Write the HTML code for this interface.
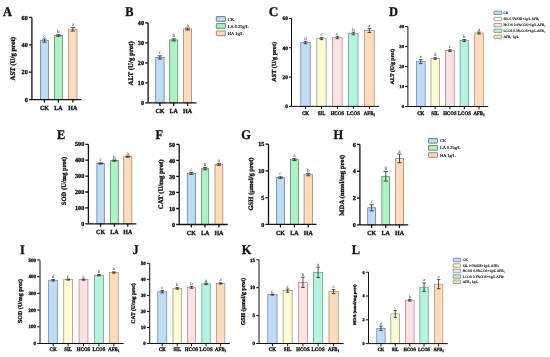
<!DOCTYPE html>
<html><head><meta charset="utf-8"><style>
html,body{margin:0;padding:0;background:#fff;width:550px;height:357px;overflow:hidden}
svg{display:block;will-change:transform;filter:blur(0.35px)}
text{font-family:"Liberation Serif",serif;text-rendering:geometricPrecision}
</style></head><body>
<svg width="550" height="357" viewBox="0 0 550 357">
<rect width="550" height="357" fill="#fff"/>
<text transform="translate(3.00,15.50) scale(0.93,1)" font-size="13.3" text-anchor="start" font-weight="bold" fill="#111" stroke="#111" stroke-width="0.32">A</text>
<rect x="40.40" y="40.60" width="8.00" height="59.00" fill="#bcdcf7" stroke="#6f7f8f" stroke-width="0.8"/>
<path d="M44.40 39.00V42.20M42.20 39.00H46.60M42.20 42.20H46.60" stroke="#1a1a1a" stroke-width="0.75" fill="none"/>
<text x="44.40" y="37.50" font-size="5.2" text-anchor="middle" font-weight="normal" fill="#222" >c</text>
<rect x="54.40" y="35.50" width="8.00" height="64.10" fill="#aaf4c4" stroke="#648a6e" stroke-width="0.8"/>
<path d="M58.40 34.70V36.30M56.20 34.70H60.60M56.20 36.30H60.60" stroke="#1a1a1a" stroke-width="0.75" fill="none"/>
<text x="58.40" y="33.20" font-size="5.2" text-anchor="middle" font-weight="normal" fill="#222" >b</text>
<rect x="68.70" y="29.30" width="8.30" height="70.30" fill="#fddbbb" stroke="#a08a74" stroke-width="0.8"/>
<path d="M72.85 27.50V31.10M70.65 27.50H75.05M70.65 31.10H75.05" stroke="#1a1a1a" stroke-width="0.75" fill="none"/>
<text x="72.85" y="26.00" font-size="5.2" text-anchor="middle" font-weight="normal" fill="#222" >a</text>
<path d="M31.90 17.40V99.60H81.50M28.90 99.60H31.90M28.90 72.20H31.90M28.90 44.80H31.90M28.90 17.40H31.90M44.40 99.60V102.60M58.40 99.60V102.60M72.85 99.60V102.60" stroke="#111" stroke-width="1.3" fill="none"/>
<text x="27.80" y="101.71" font-size="6.2" text-anchor="end" font-weight="bold" fill="#111" stroke="#111" stroke-width="0.32" >0</text>
<text x="27.80" y="74.31" font-size="6.2" text-anchor="end" font-weight="bold" fill="#111" stroke="#111" stroke-width="0.32" >20</text>
<text x="27.80" y="46.91" font-size="6.2" text-anchor="end" font-weight="bold" fill="#111" stroke="#111" stroke-width="0.32" >40</text>
<text x="27.80" y="19.51" font-size="6.2" text-anchor="end" font-weight="bold" fill="#111" stroke="#111" stroke-width="0.32" >60</text>
<text transform="translate(44.40,110.20) scale(0.95,1)" font-size="6.3" text-anchor="middle" font-weight="bold" fill="#111" stroke="#111" stroke-width="0.32">CK</text>
<text transform="translate(58.40,110.20) scale(0.95,1)" font-size="6.3" text-anchor="middle" font-weight="bold" fill="#111" stroke="#111" stroke-width="0.32">LA</text>
<text transform="translate(72.85,110.20) scale(0.95,1)" font-size="6.3" text-anchor="middle" font-weight="bold" fill="#111" stroke="#111" stroke-width="0.32">HA</text>
<text x="0.00" y="0.00" font-size="6.8" text-anchor="middle" font-weight="bold" fill="#111" stroke="#111" stroke-width="0.32" transform="translate(15.40,58.70) rotate(-90)">AST (U/g prot)</text>
<text transform="translate(125.20,15.70) scale(0.93,1)" font-size="13.3" text-anchor="start" font-weight="bold" fill="#111" stroke="#111" stroke-width="0.32">B</text>
<rect x="155.70" y="57.40" width="8.40" height="45.50" fill="#bcdcf7" stroke="#6f7f8f" stroke-width="0.8"/>
<path d="M159.90 55.80V59.00M157.70 55.80H162.10M157.70 59.00H162.10" stroke="#1a1a1a" stroke-width="0.75" fill="none"/>
<text x="159.90" y="54.30" font-size="5.2" text-anchor="middle" font-weight="normal" fill="#222" >c</text>
<rect x="169.70" y="39.90" width="8.00" height="63.00" fill="#aaf4c4" stroke="#648a6e" stroke-width="0.8"/>
<path d="M173.70 38.90V40.90M171.50 38.90H175.90M171.50 40.90H175.90" stroke="#1a1a1a" stroke-width="0.75" fill="none"/>
<text x="173.70" y="37.40" font-size="5.2" text-anchor="middle" font-weight="normal" fill="#222" >b</text>
<rect x="183.60" y="29.00" width="8.00" height="73.90" fill="#fddbbb" stroke="#a08a74" stroke-width="0.8"/>
<path d="M187.60 28.00V30.00M185.40 28.00H189.80M185.40 30.00H189.80" stroke="#1a1a1a" stroke-width="0.75" fill="none"/>
<text x="187.60" y="26.50" font-size="5.2" text-anchor="middle" font-weight="normal" fill="#222" >a</text>
<path d="M148.10 22.90V102.90H196.50M145.10 102.90H148.10M145.10 82.90H148.10M145.10 62.90H148.10M145.10 42.90H148.10M145.10 22.90H148.10M159.90 102.90V105.90M173.70 102.90V105.90M187.60 102.90V105.90" stroke="#111" stroke-width="1.3" fill="none"/>
<text x="144.00" y="105.01" font-size="6.2" text-anchor="end" font-weight="bold" fill="#111" stroke="#111" stroke-width="0.32" >0</text>
<text x="144.00" y="85.01" font-size="6.2" text-anchor="end" font-weight="bold" fill="#111" stroke="#111" stroke-width="0.32" >10</text>
<text x="144.00" y="65.01" font-size="6.2" text-anchor="end" font-weight="bold" fill="#111" stroke="#111" stroke-width="0.32" >20</text>
<text x="144.00" y="45.01" font-size="6.2" text-anchor="end" font-weight="bold" fill="#111" stroke="#111" stroke-width="0.32" >30</text>
<text x="144.00" y="25.01" font-size="6.2" text-anchor="end" font-weight="bold" fill="#111" stroke="#111" stroke-width="0.32" >40</text>
<text transform="translate(159.90,112.60) scale(0.95,1)" font-size="6.3" text-anchor="middle" font-weight="bold" fill="#111" stroke="#111" stroke-width="0.32">CK</text>
<text transform="translate(173.70,112.60) scale(0.95,1)" font-size="6.3" text-anchor="middle" font-weight="bold" fill="#111" stroke="#111" stroke-width="0.32">LA</text>
<text transform="translate(187.60,112.60) scale(0.95,1)" font-size="6.3" text-anchor="middle" font-weight="bold" fill="#111" stroke="#111" stroke-width="0.32">HA</text>
<text x="0.00" y="0.00" font-size="6.9" text-anchor="middle" font-weight="bold" fill="#111" stroke="#111" stroke-width="0.32" transform="translate(132.70,63.30) rotate(-90)">ALT (U/g prot)</text>
<rect x="216.30" y="16.60" width="9.10" height="4.70" fill="#bcdcf7" stroke="#6f7f8f" stroke-width="1.0" rx="0.4"/>
<text x="227.80" y="20.53" font-size="4.5" text-anchor="start" font-weight="normal" fill="#000" stroke="#000" stroke-width="0.12">CK</text>
<rect x="216.30" y="23.60" width="9.10" height="4.70" fill="#aaf4c4" stroke="#648a6e" stroke-width="1.0" rx="0.4"/>
<text x="227.80" y="27.53" font-size="4.5" text-anchor="start" font-weight="normal" fill="#000" stroke="#000" stroke-width="0.12">LA 0.25g/L</text>
<rect x="216.30" y="31.00" width="9.10" height="4.70" fill="#fddbbb" stroke="#a08a74" stroke-width="1.0" rx="0.4"/>
<text x="227.80" y="34.93" font-size="4.5" text-anchor="start" font-weight="normal" fill="#000" stroke="#000" stroke-width="0.12">HA 1g/L</text>
<text x="268.80" y="16.30" font-size="13.3" text-anchor="start" font-weight="bold" fill="#111" stroke="#111" stroke-width="0.32" >C</text>
<rect x="300.75" y="42.50" width="9.50" height="63.90" fill="#bcdcf7" stroke="#6f7f8f" stroke-width="0.7"/>
<path d="M305.50 41.30V43.70M303.70 41.30H307.30M303.70 43.70H307.30" stroke="#1a1a1a" stroke-width="0.75" fill="none"/>
<text x="305.50" y="39.80" font-size="4.8" text-anchor="middle" font-weight="normal" fill="#222" >d</text>
<rect x="316.85" y="38.60" width="9.30" height="67.80" fill="#fcfbd4" stroke="#8e8e74" stroke-width="0.7"/>
<path d="M321.50 37.60V39.60M319.70 37.60H323.30M319.70 39.60H323.30" stroke="#1a1a1a" stroke-width="0.75" fill="none"/>
<text x="321.50" y="36.10" font-size="4.8" text-anchor="middle" font-weight="normal" fill="#222" >c</text>
<rect x="332.65" y="37.50" width="9.50" height="68.90" fill="#fde0e1" stroke="#9a8686" stroke-width="0.7"/>
<path d="M337.40 36.30V38.70M335.60 36.30H339.20M335.60 38.70H339.20" stroke="#1a1a1a" stroke-width="0.75" fill="none"/>
<text x="337.40" y="34.80" font-size="4.8" text-anchor="middle" font-weight="normal" fill="#222" >c</text>
<rect x="348.65" y="33.50" width="9.40" height="72.90" fill="#b3f4e1" stroke="#658f84" stroke-width="0.7"/>
<path d="M353.35 32.20V34.80M351.55 32.20H355.15M351.55 34.80H355.15" stroke="#1a1a1a" stroke-width="0.75" fill="none"/>
<text x="353.35" y="30.70" font-size="4.8" text-anchor="middle" font-weight="normal" fill="#222" >b</text>
<rect x="364.55" y="30.50" width="9.70" height="75.90" fill="#fddbbb" stroke="#a08a74" stroke-width="0.7"/>
<path d="M369.40 28.50V32.50M367.60 28.50H371.20M367.60 32.50H371.20" stroke="#1a1a1a" stroke-width="0.75" fill="none"/>
<text x="369.40" y="27.00" font-size="4.8" text-anchor="middle" font-weight="normal" fill="#222" >a</text>
<path d="M291.50 18.40V106.40H379.20M289.00 106.40H291.50M289.00 77.07H291.50M289.00 47.73H291.50M289.00 18.40H291.50M305.50 106.40V108.90M321.50 106.40V108.90M337.40 106.40V108.90M353.35 106.40V108.90M369.40 106.40V108.90" stroke="#111" stroke-width="1.0" fill="none"/>
<text x="287.90" y="108.24" font-size="5.4" text-anchor="end" font-weight="bold" fill="#111" stroke="#111" stroke-width="0.32" >0</text>
<text x="287.90" y="78.90" font-size="5.4" text-anchor="end" font-weight="bold" fill="#111" stroke="#111" stroke-width="0.32" >20</text>
<text x="287.90" y="49.57" font-size="5.4" text-anchor="end" font-weight="bold" fill="#111" stroke="#111" stroke-width="0.32" >40</text>
<text x="287.90" y="20.24" font-size="5.4" text-anchor="end" font-weight="bold" fill="#111" stroke="#111" stroke-width="0.32" >60</text>
<text transform="translate(305.50,114.60) scale(0.9,1)" font-size="5.3" text-anchor="middle" font-weight="bold" fill="#111" stroke="#111" stroke-width="0.32">CK</text>
<text transform="translate(321.50,114.60) scale(0.9,1)" font-size="5.3" text-anchor="middle" font-weight="bold" fill="#111" stroke="#111" stroke-width="0.32">SIL</text>
<text transform="translate(337.40,114.60) scale(0.9,1)" font-size="5.3" text-anchor="middle" font-weight="bold" fill="#111" stroke="#111" stroke-width="0.32">HCOS</text>
<text transform="translate(353.35,114.60) scale(0.9,1)" font-size="5.3" text-anchor="middle" font-weight="bold" fill="#111" stroke="#111" stroke-width="0.32">LCOS</text>
<text transform="translate(369.40,114.60) scale(0.9,1)" font-size="5.3" text-anchor="middle" font-weight="bold" fill="#111" stroke="#111" stroke-width="0.32">AFB<tspan font-size="70%" dy="1">1</tspan></text>
<text x="0.00" y="0.00" font-size="6.2" text-anchor="middle" font-weight="bold" fill="#111" stroke="#111" stroke-width="0.32" transform="translate(276.30,61.80) rotate(-90)">AST (U/g prot)</text>
<text transform="translate(388.90,15.90) scale(0.93,1)" font-size="13.3" text-anchor="start" font-weight="bold" fill="#111" stroke="#111" stroke-width="0.32">D</text>
<rect x="416.35" y="61.60" width="8.80" height="44.90" fill="#bcdcf7" stroke="#6f7f8f" stroke-width="0.7"/>
<path d="M420.75 59.60V63.60M418.95 59.60H422.55M418.95 63.60H422.55" stroke="#1a1a1a" stroke-width="0.75" fill="none"/>
<text x="420.75" y="58.10" font-size="4.8" text-anchor="middle" font-weight="normal" fill="#222" >e</text>
<rect x="430.95" y="58.50" width="8.40" height="48.00" fill="#fcfbd4" stroke="#8e8e74" stroke-width="0.7"/>
<path d="M435.15 57.70V59.30M433.35 57.70H436.95M433.35 59.30H436.95" stroke="#1a1a1a" stroke-width="0.75" fill="none"/>
<text x="435.15" y="56.20" font-size="4.8" text-anchor="middle" font-weight="normal" fill="#222" >d</text>
<rect x="445.55" y="50.60" width="8.70" height="55.90" fill="#fde0e1" stroke="#9a8686" stroke-width="0.7"/>
<path d="M449.90 49.80V51.40M448.10 49.80H451.70M448.10 51.40H451.70" stroke="#1a1a1a" stroke-width="0.75" fill="none"/>
<text x="449.90" y="48.30" font-size="4.8" text-anchor="middle" font-weight="normal" fill="#222" >c</text>
<rect x="460.05" y="40.50" width="8.50" height="66.00" fill="#b3f4e1" stroke="#658f84" stroke-width="0.7"/>
<path d="M464.30 39.50V41.50M462.50 39.50H466.10M462.50 41.50H466.10" stroke="#1a1a1a" stroke-width="0.75" fill="none"/>
<text x="464.30" y="38.00" font-size="4.8" text-anchor="middle" font-weight="normal" fill="#222" >b</text>
<rect x="474.65" y="33.00" width="8.70" height="73.50" fill="#fddbbb" stroke="#a08a74" stroke-width="0.7"/>
<path d="M479.00 32.00V34.00M477.20 32.00H480.80M477.20 34.00H480.80" stroke="#1a1a1a" stroke-width="0.75" fill="none"/>
<text x="479.00" y="30.50" font-size="4.8" text-anchor="middle" font-weight="normal" fill="#222" >a</text>
<path d="M407.90 26.60V106.50H488.30M405.10 106.50H407.90M405.10 86.53H407.90M405.10 66.55H407.90M405.10 46.57H407.90M405.10 26.60H407.90M420.75 106.50V109.30M435.15 106.50V109.30M449.90 106.50V109.30M464.30 106.50V109.30M479.00 106.50V109.30" stroke="#111" stroke-width="1.0" fill="none"/>
<text x="404.00" y="108.10" font-size="4.7" text-anchor="end" font-weight="bold" fill="#111" stroke="#111" stroke-width="0.32" >0</text>
<text x="404.00" y="88.12" font-size="4.7" text-anchor="end" font-weight="bold" fill="#111" stroke="#111" stroke-width="0.32" >10</text>
<text x="404.00" y="68.15" font-size="4.7" text-anchor="end" font-weight="bold" fill="#111" stroke="#111" stroke-width="0.32" >20</text>
<text x="404.00" y="48.17" font-size="4.7" text-anchor="end" font-weight="bold" fill="#111" stroke="#111" stroke-width="0.32" >30</text>
<text x="404.00" y="28.20" font-size="4.7" text-anchor="end" font-weight="bold" fill="#111" stroke="#111" stroke-width="0.32" >40</text>
<text transform="translate(420.75,114.60) scale(0.9,1)" font-size="5.3" text-anchor="middle" font-weight="bold" fill="#111" stroke="#111" stroke-width="0.32">CK</text>
<text transform="translate(435.15,114.60) scale(0.9,1)" font-size="5.3" text-anchor="middle" font-weight="bold" fill="#111" stroke="#111" stroke-width="0.32">SIL</text>
<text transform="translate(449.90,114.60) scale(0.9,1)" font-size="5.3" text-anchor="middle" font-weight="bold" fill="#111" stroke="#111" stroke-width="0.32">HCOS</text>
<text transform="translate(464.30,114.60) scale(0.9,1)" font-size="5.3" text-anchor="middle" font-weight="bold" fill="#111" stroke="#111" stroke-width="0.32">LCOS</text>
<text transform="translate(479.00,114.60) scale(0.9,1)" font-size="5.3" text-anchor="middle" font-weight="bold" fill="#111" stroke="#111" stroke-width="0.32">AFB<tspan font-size="70%" dy="1">1</tspan></text>
<text x="0.00" y="0.00" font-size="5.5" text-anchor="middle" font-weight="bold" fill="#111" stroke="#111" stroke-width="0.32" transform="translate(393.90,66.50) rotate(-90)">ALT (U/g prot)</text>
<rect x="493.90" y="11.20" width="7.90" height="3.30" fill="#bcdcf7" stroke="#6f7f8f" stroke-width="0.8" rx="0.4"/>
<text x="503.40" y="14.09" font-size="3.55" text-anchor="start" font-weight="normal" fill="#000" stroke="#000" stroke-width="0.12">CK</text>
<rect x="493.90" y="17.30" width="7.90" height="3.40" fill="#fcfbd4" stroke="#8e8e74" stroke-width="0.8" rx="0.4"/>
<text x="503.40" y="20.24" font-size="3.55" text-anchor="start" font-weight="normal" fill="#000" stroke="#000" stroke-width="0.12">SIL 0.5%SIE+1g/L AFB<tspan font-size="70%" dy="0.6">1</tspan></text>
<rect x="493.90" y="23.50" width="7.90" height="3.30" fill="#fde0e1" stroke="#9a8686" stroke-width="0.8" rx="0.4"/>
<text x="503.40" y="26.39" font-size="3.55" text-anchor="start" font-weight="normal" fill="#000" stroke="#000" stroke-width="0.12">HCOS 0.6%COS+1g/L AFB<tspan font-size="70%" dy="0.6">1</tspan></text>
<rect x="493.90" y="29.10" width="7.90" height="3.30" fill="#b3f4e1" stroke="#658f84" stroke-width="0.8" rx="0.4"/>
<text x="503.40" y="31.99" font-size="3.55" text-anchor="start" font-weight="normal" fill="#000" stroke="#000" stroke-width="0.12">LCOS 0.3%COS+1g/L AFB<tspan font-size="70%" dy="0.6">1</tspan></text>
<rect x="493.90" y="35.20" width="7.90" height="3.40" fill="#fddbbb" stroke="#a08a74" stroke-width="0.8" rx="0.4"/>
<text x="503.40" y="38.14" font-size="3.55" text-anchor="start" font-weight="normal" fill="#000" stroke="#000" stroke-width="0.12">AFB<tspan font-size="70%" dy="0.6">1</tspan><tspan dy="-0.6"> 1g/L</tspan></text>
<text transform="translate(57.00,138.80) scale(0.93,1)" font-size="13.3" text-anchor="start" font-weight="bold" fill="#111" stroke="#111" stroke-width="0.32">E</text>
<rect x="96.90" y="163.50" width="7.40" height="60.30" fill="#bcdcf7" stroke="#6f7f8f" stroke-width="0.8"/>
<path d="M100.60 162.90V164.10M98.40 162.90H102.80M98.40 164.10H102.80" stroke="#1a1a1a" stroke-width="0.75" fill="none"/>
<text x="100.60" y="161.40" font-size="5.2" text-anchor="middle" font-weight="normal" fill="#222" >c</text>
<rect x="110.50" y="160.60" width="7.80" height="63.20" fill="#aaf4c4" stroke="#648a6e" stroke-width="0.8"/>
<path d="M114.40 160.00V161.20M112.20 160.00H116.60M112.20 161.20H116.60" stroke="#1a1a1a" stroke-width="0.75" fill="none"/>
<text x="114.40" y="158.50" font-size="5.2" text-anchor="middle" font-weight="normal" fill="#222" >b</text>
<rect x="123.70" y="156.60" width="8.10" height="67.20" fill="#fddbbb" stroke="#a08a74" stroke-width="0.8"/>
<path d="M127.75 156.00V157.20M125.55 156.00H129.95M125.55 157.20H129.95" stroke="#1a1a1a" stroke-width="0.75" fill="none"/>
<text x="127.75" y="154.50" font-size="5.2" text-anchor="middle" font-weight="normal" fill="#222" >a</text>
<path d="M88.40 144.30V223.80H136.40M85.40 223.80H88.40M85.40 207.90H88.40M85.40 192.00H88.40M85.40 176.10H88.40M85.40 160.20H88.40M85.40 144.30H88.40M100.60 223.80V226.80M114.40 223.80V226.80M127.75 223.80V226.80" stroke="#111" stroke-width="1.3" fill="none"/>
<text x="84.30" y="225.91" font-size="6.2" text-anchor="end" font-weight="bold" fill="#111" stroke="#111" stroke-width="0.32" >0</text>
<text x="84.30" y="210.01" font-size="6.2" text-anchor="end" font-weight="bold" fill="#111" stroke="#111" stroke-width="0.32" >100</text>
<text x="84.30" y="194.11" font-size="6.2" text-anchor="end" font-weight="bold" fill="#111" stroke="#111" stroke-width="0.32" >200</text>
<text x="84.30" y="178.21" font-size="6.2" text-anchor="end" font-weight="bold" fill="#111" stroke="#111" stroke-width="0.32" >300</text>
<text x="84.30" y="162.31" font-size="6.2" text-anchor="end" font-weight="bold" fill="#111" stroke="#111" stroke-width="0.32" >400</text>
<text x="84.30" y="146.41" font-size="6.2" text-anchor="end" font-weight="bold" fill="#111" stroke="#111" stroke-width="0.32" >500</text>
<text transform="translate(100.60,234.00) scale(0.95,1)" font-size="6.3" text-anchor="middle" font-weight="bold" fill="#111" stroke="#111" stroke-width="0.32">CK</text>
<text transform="translate(114.40,234.00) scale(0.95,1)" font-size="6.3" text-anchor="middle" font-weight="bold" fill="#111" stroke="#111" stroke-width="0.32">LA</text>
<text transform="translate(127.75,234.00) scale(0.95,1)" font-size="6.3" text-anchor="middle" font-weight="bold" fill="#111" stroke="#111" stroke-width="0.32">HA</text>
<text x="0.00" y="0.00" font-size="6.55" text-anchor="middle" font-weight="bold" fill="#111" stroke="#111" stroke-width="0.32" transform="translate(66.00,181.00) rotate(-90)">SOD (U/mg prot)</text>
<text transform="translate(155.40,138.80) scale(0.93,1)" font-size="13.3" text-anchor="start" font-weight="bold" fill="#111" stroke="#111" stroke-width="0.32">F</text>
<rect x="187.30" y="173.30" width="8.10" height="51.20" fill="#bcdcf7" stroke="#6f7f8f" stroke-width="0.8"/>
<path d="M191.35 172.30V174.30M189.15 172.30H193.55M189.15 174.30H193.55" stroke="#1a1a1a" stroke-width="0.75" fill="none"/>
<text x="191.35" y="170.80" font-size="5.2" text-anchor="middle" font-weight="normal" fill="#222" >c</text>
<rect x="201.40" y="168.60" width="7.30" height="55.90" fill="#aaf4c4" stroke="#648a6e" stroke-width="0.8"/>
<path d="M205.05 167.40V169.80M202.85 167.40H207.25M202.85 169.80H207.25" stroke="#1a1a1a" stroke-width="0.75" fill="none"/>
<text x="205.05" y="165.90" font-size="5.2" text-anchor="middle" font-weight="normal" fill="#222" >b</text>
<rect x="215.00" y="164.40" width="7.80" height="60.10" fill="#fddbbb" stroke="#a08a74" stroke-width="0.8"/>
<path d="M218.90 163.40V165.40M216.70 163.40H221.10M216.70 165.40H221.10" stroke="#1a1a1a" stroke-width="0.75" fill="none"/>
<text x="218.90" y="161.90" font-size="5.2" text-anchor="middle" font-weight="normal" fill="#222" >a</text>
<path d="M179.20 144.40V224.50H227.70M176.20 224.50H179.20M176.20 208.48H179.20M176.20 192.46H179.20M176.20 176.44H179.20M176.20 160.42H179.20M176.20 144.40H179.20M191.35 224.50V227.50M205.05 224.50V227.50M218.90 224.50V227.50" stroke="#111" stroke-width="1.3" fill="none"/>
<text x="175.10" y="226.61" font-size="6.2" text-anchor="end" font-weight="bold" fill="#111" stroke="#111" stroke-width="0.32" >0</text>
<text x="175.10" y="210.59" font-size="6.2" text-anchor="end" font-weight="bold" fill="#111" stroke="#111" stroke-width="0.32" >10</text>
<text x="175.10" y="194.57" font-size="6.2" text-anchor="end" font-weight="bold" fill="#111" stroke="#111" stroke-width="0.32" >20</text>
<text x="175.10" y="178.55" font-size="6.2" text-anchor="end" font-weight="bold" fill="#111" stroke="#111" stroke-width="0.32" >30</text>
<text x="175.10" y="162.53" font-size="6.2" text-anchor="end" font-weight="bold" fill="#111" stroke="#111" stroke-width="0.32" >40</text>
<text x="175.10" y="146.51" font-size="6.2" text-anchor="end" font-weight="bold" fill="#111" stroke="#111" stroke-width="0.32" >50</text>
<text transform="translate(191.35,234.60) scale(0.95,1)" font-size="6.3" text-anchor="middle" font-weight="bold" fill="#111" stroke="#111" stroke-width="0.32">CK</text>
<text transform="translate(205.05,234.60) scale(0.95,1)" font-size="6.3" text-anchor="middle" font-weight="bold" fill="#111" stroke="#111" stroke-width="0.32">LA</text>
<text transform="translate(218.90,234.60) scale(0.95,1)" font-size="6.3" text-anchor="middle" font-weight="bold" fill="#111" stroke="#111" stroke-width="0.32">HA</text>
<text x="0.00" y="0.00" font-size="6.8" text-anchor="middle" font-weight="bold" fill="#111" stroke="#111" stroke-width="0.32" transform="translate(163.10,184.30) rotate(-90)">CAT (U/mg prot)</text>
<text transform="translate(241.30,138.80) scale(0.93,1)" font-size="13.3" text-anchor="start" font-weight="bold" fill="#111" stroke="#111" stroke-width="0.32">G</text>
<rect x="276.40" y="177.60" width="8.20" height="46.80" fill="#bcdcf7" stroke="#6f7f8f" stroke-width="0.8"/>
<path d="M280.50 176.80V178.40M278.30 176.80H282.70M278.30 178.40H282.70" stroke="#1a1a1a" stroke-width="0.75" fill="none"/>
<text x="280.50" y="175.30" font-size="5.2" text-anchor="middle" font-weight="normal" fill="#222" >c</text>
<rect x="290.40" y="159.60" width="8.00" height="64.80" fill="#aaf4c4" stroke="#648a6e" stroke-width="0.8"/>
<path d="M294.40 158.60V160.60M292.20 158.60H296.60M292.20 160.60H296.60" stroke="#1a1a1a" stroke-width="0.75" fill="none"/>
<text x="294.40" y="157.10" font-size="5.2" text-anchor="middle" font-weight="normal" fill="#222" >a</text>
<rect x="304.10" y="174.60" width="8.30" height="49.80" fill="#fddbbb" stroke="#a08a74" stroke-width="0.8"/>
<path d="M308.25 173.40V175.80M306.05 173.40H310.45M306.05 175.80H310.45" stroke="#1a1a1a" stroke-width="0.75" fill="none"/>
<text x="308.25" y="171.90" font-size="5.2" text-anchor="middle" font-weight="normal" fill="#222" >b</text>
<path d="M268.50 144.10V224.40H316.50M265.50 224.40H268.50M265.50 197.63H268.50M265.50 170.87H268.50M265.50 144.10H268.50M280.50 224.40V227.40M294.40 224.40V227.40M308.25 224.40V227.40" stroke="#111" stroke-width="1.3" fill="none"/>
<text x="264.40" y="226.51" font-size="6.2" text-anchor="end" font-weight="bold" fill="#111" stroke="#111" stroke-width="0.32" >0</text>
<text x="264.40" y="199.74" font-size="6.2" text-anchor="end" font-weight="bold" fill="#111" stroke="#111" stroke-width="0.32" >5</text>
<text x="264.40" y="172.97" font-size="6.2" text-anchor="end" font-weight="bold" fill="#111" stroke="#111" stroke-width="0.32" >10</text>
<text x="264.40" y="146.21" font-size="6.2" text-anchor="end" font-weight="bold" fill="#111" stroke="#111" stroke-width="0.32" >15</text>
<text transform="translate(280.50,234.60) scale(0.95,1)" font-size="6.3" text-anchor="middle" font-weight="bold" fill="#111" stroke="#111" stroke-width="0.32">CK</text>
<text transform="translate(294.40,234.60) scale(0.95,1)" font-size="6.3" text-anchor="middle" font-weight="bold" fill="#111" stroke="#111" stroke-width="0.32">LA</text>
<text transform="translate(308.25,234.60) scale(0.95,1)" font-size="6.3" text-anchor="middle" font-weight="bold" fill="#111" stroke="#111" stroke-width="0.32">HA</text>
<text x="0.00" y="0.00" font-size="6.6" text-anchor="middle" font-weight="bold" fill="#111" stroke="#111" stroke-width="0.32" transform="translate(252.70,184.00) rotate(-90)">GSH (μmol/g prot)</text>
<text transform="translate(333.50,138.80) scale(0.93,1)" font-size="13.3" text-anchor="start" font-weight="bold" fill="#111" stroke="#111" stroke-width="0.32">H</text>
<rect x="367.70" y="207.80" width="7.90" height="17.10" fill="#bcdcf7" stroke="#6f7f8f" stroke-width="0.8"/>
<path d="M371.65 204.80V210.80M369.45 204.80H373.85M369.45 210.80H373.85" stroke="#1a1a1a" stroke-width="0.75" fill="none"/>
<text x="371.65" y="203.30" font-size="5.2" text-anchor="middle" font-weight="normal" fill="#222" >c</text>
<rect x="381.90" y="176.30" width="7.70" height="48.60" fill="#aaf4c4" stroke="#648a6e" stroke-width="0.8"/>
<path d="M385.75 171.50V181.10M383.55 171.50H387.95M383.55 181.10H387.95" stroke="#1a1a1a" stroke-width="0.75" fill="none"/>
<text x="385.75" y="170.00" font-size="5.2" text-anchor="middle" font-weight="normal" fill="#222" >b</text>
<rect x="395.60" y="158.40" width="7.80" height="66.50" fill="#fddbbb" stroke="#a08a74" stroke-width="0.8"/>
<path d="M399.50 154.10V162.70M397.30 154.10H401.70M397.30 162.70H401.70" stroke="#1a1a1a" stroke-width="0.75" fill="none"/>
<text x="399.50" y="152.60" font-size="5.2" text-anchor="middle" font-weight="normal" fill="#222" >a</text>
<path d="M359.90 144.40V224.90H408.30M356.90 224.90H359.90M356.90 198.07H359.90M356.90 171.23H359.90M356.90 144.40H359.90M371.65 224.90V227.90M385.75 224.90V227.90M399.50 224.90V227.90" stroke="#111" stroke-width="1.3" fill="none"/>
<text x="355.80" y="227.01" font-size="6.2" text-anchor="end" font-weight="bold" fill="#111" stroke="#111" stroke-width="0.32" >0</text>
<text x="355.80" y="200.17" font-size="6.2" text-anchor="end" font-weight="bold" fill="#111" stroke="#111" stroke-width="0.32" >2</text>
<text x="355.80" y="173.34" font-size="6.2" text-anchor="end" font-weight="bold" fill="#111" stroke="#111" stroke-width="0.32" >4</text>
<text x="355.80" y="146.51" font-size="6.2" text-anchor="end" font-weight="bold" fill="#111" stroke="#111" stroke-width="0.32" >6</text>
<text transform="translate(371.65,235.00) scale(0.95,1)" font-size="6.3" text-anchor="middle" font-weight="bold" fill="#111" stroke="#111" stroke-width="0.32">CK</text>
<text transform="translate(385.75,235.00) scale(0.95,1)" font-size="6.3" text-anchor="middle" font-weight="bold" fill="#111" stroke="#111" stroke-width="0.32">LA</text>
<text transform="translate(399.50,235.00) scale(0.95,1)" font-size="6.3" text-anchor="middle" font-weight="bold" fill="#111" stroke="#111" stroke-width="0.32">HA</text>
<text x="0.00" y="0.00" font-size="6.7" text-anchor="middle" font-weight="bold" fill="#111" stroke="#111" stroke-width="0.32" transform="translate(344.20,185.30) rotate(-90)">MDA (nmol/mg prot)</text>
<rect x="428.50" y="138.50" width="9.10" height="4.60" fill="#bcdcf7" stroke="#6f7f8f" stroke-width="1.0" rx="0.4"/>
<text x="440.00" y="142.34" font-size="4.4" text-anchor="start" font-weight="normal" fill="#000" stroke="#000" stroke-width="0.12">CK</text>
<rect x="428.50" y="145.60" width="9.10" height="4.60" fill="#aaf4c4" stroke="#648a6e" stroke-width="1.0" rx="0.4"/>
<text x="440.00" y="149.44" font-size="4.4" text-anchor="start" font-weight="normal" fill="#000" stroke="#000" stroke-width="0.12">LA 0.25g/L</text>
<rect x="428.50" y="152.70" width="9.10" height="4.60" fill="#fddbbb" stroke="#a08a74" stroke-width="1.0" rx="0.4"/>
<text x="440.00" y="156.54" font-size="4.4" text-anchor="start" font-weight="normal" fill="#000" stroke="#000" stroke-width="0.12">HA 1g/L</text>
<text transform="translate(19.90,253.90) scale(0.92,1)" font-size="13.3" text-anchor="start" font-weight="bold" fill="#111" stroke="#111" stroke-width="0.32">I</text>
<rect x="48.65" y="280.20" width="9.00" height="63.30" fill="#bcdcf7" stroke="#6f7f8f" stroke-width="0.7"/>
<path d="M53.15 279.40V281.00M51.35 279.40H54.95M51.35 281.00H54.95" stroke="#1a1a1a" stroke-width="0.75" fill="none"/>
<text x="53.15" y="277.90" font-size="4.8" text-anchor="middle" font-weight="normal" fill="#222" >d</text>
<rect x="63.75" y="279.60" width="8.80" height="63.90" fill="#fcfbd4" stroke="#8e8e74" stroke-width="0.7"/>
<path d="M68.15 279.00V280.20M66.35 279.00H69.95M66.35 280.20H69.95" stroke="#1a1a1a" stroke-width="0.75" fill="none"/>
<text x="68.15" y="277.50" font-size="4.8" text-anchor="middle" font-weight="normal" fill="#222" >c</text>
<rect x="79.05" y="279.60" width="8.90" height="63.90" fill="#fde0e1" stroke="#9a8686" stroke-width="0.7"/>
<path d="M83.50 279.00V280.20M81.70 279.00H85.30M81.70 280.20H85.30" stroke="#1a1a1a" stroke-width="0.75" fill="none"/>
<text x="83.50" y="277.50" font-size="4.8" text-anchor="middle" font-weight="normal" fill="#222" >c</text>
<rect x="94.55" y="275.20" width="8.80" height="68.30" fill="#b3f4e1" stroke="#658f84" stroke-width="0.7"/>
<path d="M98.95 274.60V275.80M97.15 274.60H100.75M97.15 275.80H100.75" stroke="#1a1a1a" stroke-width="0.75" fill="none"/>
<text x="98.95" y="273.10" font-size="4.8" text-anchor="middle" font-weight="normal" fill="#222" >b</text>
<rect x="109.45" y="272.50" width="8.80" height="71.00" fill="#fddbbb" stroke="#a08a74" stroke-width="0.7"/>
<path d="M113.85 271.90V273.10M112.05 271.90H115.65M112.05 273.10H115.65" stroke="#1a1a1a" stroke-width="0.75" fill="none"/>
<text x="113.85" y="270.40" font-size="4.8" text-anchor="middle" font-weight="normal" fill="#222" >a</text>
<path d="M40.00 259.90V343.50H123.60M37.20 343.50H40.00M37.20 326.78H40.00M37.20 310.06H40.00M37.20 293.34H40.00M37.20 276.62H40.00M37.20 259.90H40.00M53.15 343.50V346.30M68.15 343.50V346.30M83.50 343.50V346.30M98.95 343.50V346.30M113.85 343.50V346.30" stroke="#111" stroke-width="1.0" fill="none"/>
<text x="36.10" y="345.20" font-size="5.0" text-anchor="end" font-weight="bold" fill="#111" stroke="#111" stroke-width="0.32" >0</text>
<text x="36.10" y="328.48" font-size="5.0" text-anchor="end" font-weight="bold" fill="#111" stroke="#111" stroke-width="0.32" >100</text>
<text x="36.10" y="311.76" font-size="5.0" text-anchor="end" font-weight="bold" fill="#111" stroke="#111" stroke-width="0.32" >200</text>
<text x="36.10" y="295.04" font-size="5.0" text-anchor="end" font-weight="bold" fill="#111" stroke="#111" stroke-width="0.32" >300</text>
<text x="36.10" y="278.32" font-size="5.0" text-anchor="end" font-weight="bold" fill="#111" stroke="#111" stroke-width="0.32" >400</text>
<text x="36.10" y="261.60" font-size="5.0" text-anchor="end" font-weight="bold" fill="#111" stroke="#111" stroke-width="0.32" >500</text>
<text transform="translate(53.15,351.30) scale(0.9,1)" font-size="5.3" text-anchor="middle" font-weight="bold" fill="#111" stroke="#111" stroke-width="0.32">CK</text>
<text transform="translate(68.15,351.30) scale(0.9,1)" font-size="5.3" text-anchor="middle" font-weight="bold" fill="#111" stroke="#111" stroke-width="0.32">SIL</text>
<text transform="translate(83.50,351.30) scale(0.9,1)" font-size="5.3" text-anchor="middle" font-weight="bold" fill="#111" stroke="#111" stroke-width="0.32">HCOS</text>
<text transform="translate(98.95,351.30) scale(0.9,1)" font-size="5.3" text-anchor="middle" font-weight="bold" fill="#111" stroke="#111" stroke-width="0.32">LCOS</text>
<text transform="translate(113.85,351.30) scale(0.9,1)" font-size="5.3" text-anchor="middle" font-weight="bold" fill="#111" stroke="#111" stroke-width="0.32">AFB<tspan font-size="70%" dy="1">1</tspan></text>
<text x="0.00" y="0.00" font-size="6.0" text-anchor="middle" font-weight="bold" fill="#111" stroke="#111" stroke-width="0.32" transform="translate(21.60,301.00) rotate(-90)">SOD (U/mg prot)</text>
<text transform="translate(132.60,253.80) scale(0.93,1)" font-size="13.3" text-anchor="start" font-weight="bold" fill="#111" stroke="#111" stroke-width="0.32">J</text>
<rect x="157.75" y="291.70" width="9.00" height="51.80" fill="#bcdcf7" stroke="#6f7f8f" stroke-width="0.7"/>
<path d="M162.25 290.50V292.90M160.45 290.50H164.05M160.45 292.90H164.05" stroke="#1a1a1a" stroke-width="0.75" fill="none"/>
<text x="162.25" y="289.00" font-size="4.8" text-anchor="middle" font-weight="normal" fill="#222" >c</text>
<rect x="172.95" y="288.40" width="8.60" height="55.10" fill="#fcfbd4" stroke="#8e8e74" stroke-width="0.7"/>
<path d="M177.25 287.60V289.20M175.45 287.60H179.05M175.45 289.20H179.05" stroke="#1a1a1a" stroke-width="0.75" fill="none"/>
<text x="177.25" y="286.10" font-size="4.8" text-anchor="middle" font-weight="normal" fill="#222" >b</text>
<rect x="187.35" y="287.30" width="8.30" height="56.20" fill="#fde0e1" stroke="#9a8686" stroke-width="0.7"/>
<path d="M191.50 286.30V288.30M189.70 286.30H193.30M189.70 288.30H193.30" stroke="#1a1a1a" stroke-width="0.75" fill="none"/>
<text x="191.50" y="284.80" font-size="4.8" text-anchor="middle" font-weight="normal" fill="#222" >b</text>
<rect x="201.85" y="283.80" width="8.40" height="59.70" fill="#b3f4e1" stroke="#658f84" stroke-width="0.7"/>
<path d="M206.05 283.00V284.60M204.25 283.00H207.85M204.25 284.60H207.85" stroke="#1a1a1a" stroke-width="0.75" fill="none"/>
<text x="206.05" y="281.50" font-size="4.8" text-anchor="middle" font-weight="normal" fill="#222" >a</text>
<rect x="216.45" y="283.40" width="8.40" height="60.10" fill="#fddbbb" stroke="#a08a74" stroke-width="0.7"/>
<path d="M220.65 282.80V284.00M218.85 282.80H222.45M218.85 284.00H222.45" stroke="#1a1a1a" stroke-width="0.75" fill="none"/>
<text x="220.65" y="281.30" font-size="4.8" text-anchor="middle" font-weight="normal" fill="#222" >a</text>
<path d="M149.70 263.30V343.50H230.00M146.90 343.50H149.70M146.90 327.46H149.70M146.90 311.42H149.70M146.90 295.38H149.70M146.90 279.34H149.70M146.90 263.30H149.70M162.25 343.50V346.30M177.25 343.50V346.30M191.50 343.50V346.30M206.05 343.50V346.30M220.65 343.50V346.30" stroke="#111" stroke-width="1.0" fill="none"/>
<text x="145.80" y="345.20" font-size="5.0" text-anchor="end" font-weight="bold" fill="#111" stroke="#111" stroke-width="0.32" >0</text>
<text x="145.80" y="329.16" font-size="5.0" text-anchor="end" font-weight="bold" fill="#111" stroke="#111" stroke-width="0.32" >10</text>
<text x="145.80" y="313.12" font-size="5.0" text-anchor="end" font-weight="bold" fill="#111" stroke="#111" stroke-width="0.32" >20</text>
<text x="145.80" y="297.08" font-size="5.0" text-anchor="end" font-weight="bold" fill="#111" stroke="#111" stroke-width="0.32" >30</text>
<text x="145.80" y="281.04" font-size="5.0" text-anchor="end" font-weight="bold" fill="#111" stroke="#111" stroke-width="0.32" >40</text>
<text x="145.80" y="265.00" font-size="5.0" text-anchor="end" font-weight="bold" fill="#111" stroke="#111" stroke-width="0.32" >50</text>
<text transform="translate(162.25,351.30) scale(0.9,1)" font-size="5.3" text-anchor="middle" font-weight="bold" fill="#111" stroke="#111" stroke-width="0.32">CK</text>
<text transform="translate(177.25,351.30) scale(0.9,1)" font-size="5.3" text-anchor="middle" font-weight="bold" fill="#111" stroke="#111" stroke-width="0.32">SIL</text>
<text transform="translate(191.50,351.30) scale(0.9,1)" font-size="5.3" text-anchor="middle" font-weight="bold" fill="#111" stroke="#111" stroke-width="0.32">HCOS</text>
<text transform="translate(206.05,351.30) scale(0.9,1)" font-size="5.3" text-anchor="middle" font-weight="bold" fill="#111" stroke="#111" stroke-width="0.32">LCOS</text>
<text transform="translate(220.65,351.30) scale(0.9,1)" font-size="5.3" text-anchor="middle" font-weight="bold" fill="#111" stroke="#111" stroke-width="0.32">AFB<tspan font-size="70%" dy="1">1</tspan></text>
<text x="0.00" y="0.00" font-size="5.5" text-anchor="middle" font-weight="bold" fill="#111" stroke="#111" stroke-width="0.32" transform="translate(135.00,303.40) rotate(-90)">CAT (U/mg prot)</text>
<text transform="translate(241.80,253.80) scale(0.93,1)" font-size="13.3" text-anchor="start" font-weight="bold" fill="#111" stroke="#111" stroke-width="0.32">K</text>
<rect x="267.75" y="294.60" width="9.30" height="48.90" fill="#bcdcf7" stroke="#6f7f8f" stroke-width="0.7"/>
<path d="M272.40 294.10V295.10M270.60 294.10H274.20M270.60 295.10H274.20" stroke="#1a1a1a" stroke-width="0.75" fill="none"/>
<text x="272.40" y="292.60" font-size="4.8" text-anchor="middle" font-weight="normal" fill="#222" >c</text>
<rect x="283.15" y="290.60" width="9.00" height="52.90" fill="#fcfbd4" stroke="#8e8e74" stroke-width="0.7"/>
<path d="M287.65 289.00V292.20M285.85 289.00H289.45M285.85 292.20H289.45" stroke="#1a1a1a" stroke-width="0.75" fill="none"/>
<text x="287.65" y="287.50" font-size="4.8" text-anchor="middle" font-weight="normal" fill="#222" >c</text>
<rect x="298.45" y="282.30" width="9.00" height="61.20" fill="#fde0e1" stroke="#9a8686" stroke-width="0.7"/>
<path d="M302.95 277.10V287.50M301.15 277.10H304.75M301.15 287.50H304.75" stroke="#1a1a1a" stroke-width="0.75" fill="none"/>
<text x="302.95" y="275.60" font-size="4.8" text-anchor="middle" font-weight="normal" fill="#222" >b</text>
<rect x="313.45" y="272.30" width="9.30" height="71.20" fill="#b3f4e1" stroke="#658f84" stroke-width="0.7"/>
<path d="M318.10 267.10V277.50M316.30 267.10H319.90M316.30 277.50H319.90" stroke="#1a1a1a" stroke-width="0.75" fill="none"/>
<text x="318.10" y="265.60" font-size="4.8" text-anchor="middle" font-weight="normal" fill="#222" >a</text>
<rect x="328.95" y="291.60" width="9.30" height="51.90" fill="#fddbbb" stroke="#a08a74" stroke-width="0.7"/>
<path d="M333.60 289.60V293.60M331.80 289.60H335.40M331.80 293.60H335.40" stroke="#1a1a1a" stroke-width="0.75" fill="none"/>
<text x="333.60" y="288.10" font-size="4.8" text-anchor="middle" font-weight="normal" fill="#222" >c</text>
<path d="M259.00 259.80V343.50H343.60M256.20 343.50H259.00M256.20 315.60H259.00M256.20 287.70H259.00M256.20 259.80H259.00M272.40 343.50V346.30M287.65 343.50V346.30M302.95 343.50V346.30M318.10 343.50V346.30M333.60 343.50V346.30" stroke="#111" stroke-width="1.0" fill="none"/>
<text x="255.10" y="345.20" font-size="5.0" text-anchor="end" font-weight="bold" fill="#111" stroke="#111" stroke-width="0.32" >0</text>
<text x="255.10" y="317.30" font-size="5.0" text-anchor="end" font-weight="bold" fill="#111" stroke="#111" stroke-width="0.32" >5</text>
<text x="255.10" y="289.40" font-size="5.0" text-anchor="end" font-weight="bold" fill="#111" stroke="#111" stroke-width="0.32" >10</text>
<text x="255.10" y="261.50" font-size="5.0" text-anchor="end" font-weight="bold" fill="#111" stroke="#111" stroke-width="0.32" >15</text>
<text transform="translate(272.40,351.30) scale(0.9,1)" font-size="5.3" text-anchor="middle" font-weight="bold" fill="#111" stroke="#111" stroke-width="0.32">CK</text>
<text transform="translate(287.65,351.30) scale(0.9,1)" font-size="5.3" text-anchor="middle" font-weight="bold" fill="#111" stroke="#111" stroke-width="0.32">SIL</text>
<text transform="translate(302.95,351.30) scale(0.9,1)" font-size="5.3" text-anchor="middle" font-weight="bold" fill="#111" stroke="#111" stroke-width="0.32">HCOS</text>
<text transform="translate(318.10,351.30) scale(0.9,1)" font-size="5.3" text-anchor="middle" font-weight="bold" fill="#111" stroke="#111" stroke-width="0.32">LCOS</text>
<text transform="translate(333.60,351.30) scale(0.9,1)" font-size="5.3" text-anchor="middle" font-weight="bold" fill="#111" stroke="#111" stroke-width="0.32">AFB<tspan font-size="70%" dy="1">1</tspan></text>
<text x="0.00" y="0.00" font-size="5.9" text-anchor="middle" font-weight="bold" fill="#111" stroke="#111" stroke-width="0.32" transform="translate(244.90,301.60) rotate(-90)">GSH (μmol/g prot)</text>
<text transform="translate(351.70,253.80) scale(0.93,1)" font-size="13.3" text-anchor="start" font-weight="bold" fill="#111" stroke="#111" stroke-width="0.32">L</text>
<rect x="376.75" y="328.30" width="8.40" height="15.30" fill="#bcdcf7" stroke="#6f7f8f" stroke-width="0.7"/>
<path d="M380.95 326.10V330.50M379.15 326.10H382.75M379.15 330.50H382.75" stroke="#1a1a1a" stroke-width="0.75" fill="none"/>
<text x="380.95" y="324.60" font-size="4.5" text-anchor="middle" font-weight="normal" fill="#222" >d</text>
<rect x="390.85" y="313.90" width="8.80" height="29.70" fill="#fcfbd4" stroke="#8e8e74" stroke-width="0.7"/>
<path d="M395.25 310.50V317.30M393.45 310.50H397.05M393.45 317.30H397.05" stroke="#1a1a1a" stroke-width="0.75" fill="none"/>
<text x="395.25" y="309.00" font-size="4.5" text-anchor="middle" font-weight="normal" fill="#222" >c</text>
<rect x="405.35" y="300.20" width="8.80" height="43.40" fill="#fde0e1" stroke="#9a8686" stroke-width="0.7"/>
<path d="M409.75 299.30V301.10M407.95 299.30H411.55M407.95 301.10H411.55" stroke="#1a1a1a" stroke-width="0.75" fill="none"/>
<text x="409.75" y="297.80" font-size="4.5" text-anchor="middle" font-weight="normal" fill="#222" >b</text>
<rect x="419.85" y="287.10" width="8.40" height="56.50" fill="#b3f4e1" stroke="#658f84" stroke-width="0.7"/>
<path d="M424.05 282.90V291.30M422.25 282.90H425.85M422.25 291.30H425.85" stroke="#1a1a1a" stroke-width="0.75" fill="none"/>
<text x="424.05" y="281.40" font-size="4.5" text-anchor="middle" font-weight="normal" fill="#222" >a</text>
<rect x="434.35" y="284.20" width="8.50" height="59.40" fill="#fddbbb" stroke="#a08a74" stroke-width="0.7"/>
<path d="M438.60 279.60V288.80M436.80 279.60H440.40M436.80 288.80H440.40" stroke="#1a1a1a" stroke-width="0.75" fill="none"/>
<text x="438.60" y="278.10" font-size="4.5" text-anchor="middle" font-weight="normal" fill="#222" >a</text>
<path d="M368.50 272.20V343.60H447.80M365.70 343.60H368.50M365.70 319.80H368.50M365.70 296.00H368.50M365.70 272.20H368.50M380.95 343.60V346.40M395.25 343.60V346.40M409.75 343.60V346.40M424.05 343.60V346.40M438.60 343.60V346.40" stroke="#111" stroke-width="1.0" fill="none"/>
<text x="364.60" y="345.03" font-size="4.2" text-anchor="end" font-weight="bold" fill="#111" stroke="#111" stroke-width="0.32" >0</text>
<text x="364.60" y="321.23" font-size="4.2" text-anchor="end" font-weight="bold" fill="#111" stroke="#111" stroke-width="0.32" >2</text>
<text x="364.60" y="297.43" font-size="4.2" text-anchor="end" font-weight="bold" fill="#111" stroke="#111" stroke-width="0.32" >4</text>
<text x="364.60" y="273.63" font-size="4.2" text-anchor="end" font-weight="bold" fill="#111" stroke="#111" stroke-width="0.32" >6</text>
<text transform="translate(380.95,351.10) scale(0.9,1)" font-size="4.9" text-anchor="middle" font-weight="bold" fill="#111" stroke="#111" stroke-width="0.32">CK</text>
<text transform="translate(395.25,351.10) scale(0.9,1)" font-size="4.9" text-anchor="middle" font-weight="bold" fill="#111" stroke="#111" stroke-width="0.32">SIL</text>
<text transform="translate(409.75,351.10) scale(0.9,1)" font-size="4.9" text-anchor="middle" font-weight="bold" fill="#111" stroke="#111" stroke-width="0.32">HCOS</text>
<text transform="translate(424.05,351.10) scale(0.9,1)" font-size="4.9" text-anchor="middle" font-weight="bold" fill="#111" stroke="#111" stroke-width="0.32">LCOS</text>
<text transform="translate(438.60,351.10) scale(0.9,1)" font-size="4.9" text-anchor="middle" font-weight="bold" fill="#111" stroke="#111" stroke-width="0.32">AFB<tspan font-size="70%" dy="1">1</tspan></text>
<text x="0.00" y="0.00" font-size="4.45" text-anchor="middle" font-weight="bold" fill="#111" stroke="#111" stroke-width="0.32" transform="translate(356.40,304.80) rotate(-90)">MDA (nmol/mg prot)</text>
<rect x="453.20" y="258.30" width="7.40" height="3.50" fill="#bcdcf7" stroke="#6f7f8f" stroke-width="0.8" rx="0.4"/>
<text x="462.80" y="261.29" font-size="3.55" text-anchor="start" font-weight="normal" fill="#000" stroke="#000" stroke-width="0.12">CK</text>
<rect x="453.20" y="263.80" width="7.40" height="3.40" fill="#fcfbd4" stroke="#8e8e74" stroke-width="0.8" rx="0.4"/>
<text x="462.80" y="266.74" font-size="3.55" text-anchor="start" font-weight="normal" fill="#000" stroke="#000" stroke-width="0.12">SIL 0.5%SIE+1g/L AFB<tspan font-size="70%" dy="0.6">1</tspan></text>
<rect x="453.20" y="269.20" width="7.40" height="3.50" fill="#fde0e1" stroke="#9a8686" stroke-width="0.8" rx="0.4"/>
<text x="462.80" y="272.19" font-size="3.55" text-anchor="start" font-weight="normal" fill="#000" stroke="#000" stroke-width="0.12">HCOS 0.6%COS+1g/L AFB<tspan font-size="70%" dy="0.6">1</tspan></text>
<rect x="453.20" y="274.70" width="7.40" height="3.50" fill="#b3f4e1" stroke="#658f84" stroke-width="0.8" rx="0.4"/>
<text x="462.80" y="277.69" font-size="3.55" text-anchor="start" font-weight="normal" fill="#000" stroke="#000" stroke-width="0.12">LCOS 0.3%COS+1g/L AFB<tspan font-size="70%" dy="0.6">1</tspan></text>
<rect x="453.20" y="280.00" width="7.40" height="3.50" fill="#fddbbb" stroke="#a08a74" stroke-width="0.8" rx="0.4"/>
<text x="462.80" y="282.99" font-size="3.55" text-anchor="start" font-weight="normal" fill="#000" stroke="#000" stroke-width="0.12">AFB<tspan font-size="70%" dy="0.6">1</tspan><tspan dy="-0.6"> 1g/L</tspan></text>
</svg>
</body></html>
